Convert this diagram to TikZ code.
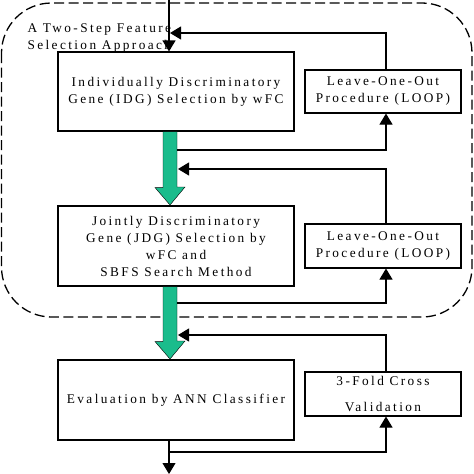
\documentclass[tikz,border=0pt]{standalone}
\usepackage{fontspec}
\setmainfont{Liberation Serif}[LetterSpace=18]
\usetikzlibrary{arrows.meta,calc}
\definecolor{arrgreen}{RGB}{26,188,140}
\begin{document}
\begin{tikzpicture}[x=1pt,y=-1pt]
  \tikzset{ b/.style={draw,line width=1.1pt,rectangle,inner sep=0pt,align=center,
      font=\fontsize{13.3}{17}\selectfont},
    tri/.style={line width=1.1pt,-{Triangle[length=11pt,width=13pt]}},
    fat/.style={fill=arrgreen,draw=black,thin},
  }
  \useasboundingbox (0,0) rectangle (474,474);
  % the dashed frame round the two steps
  \draw[line width=1.3pt,dash pattern=on 10pt off 4.5pt,rounded corners=50pt] (1.5,3) rectangle (472,317);
  \node[anchor=west,align=left,font=\fontsize{13.3}{17}\selectfont] (title) at (24,38)
    {A Two-Step Feature\\Selection Approach};

  \node[b,minimum width=236,minimum height=79] (idg) at (176,91.5)
    {Individually Discriminatory\\Gene (IDG) Selection by wFC};
  \node[b,minimum width=156,minimum height=43] (loop1) at (383,91.5)
    {Leave-One-Out\\Procedure (LOOP)};
  \node[b,minimum width=236,minimum height=80] (jdg) at (176,246)
    {Jointly Discriminatory\\Gene (JDG) Selection by\\wFC and\\SBFS Search Method};
  \node[b,minimum width=156,minimum height=44] (loop2) at (383,246)
    {Leave-One-Out\\Procedure (LOOP)};
  \node[b,minimum width=236,minimum height=80] (ann) at (176,400)
    {Evaluation by ANN Classifier};
  \node[b,minimum width=156,minimum height=44] (fold) at (383,394)
    {3-Fold Cross\\[9pt]Validation};

  \coordinate (in) at (169,0);
  \coordinate (out) at (169,474);
  \coordinate (fb) at (386,0);

  % the green arrows between the steps
  \fill[fat] (idg.south -| 163,0) -- ++(0,56) -- ++(-8,0) -- (170,205) -- (185,187)
    -- ++(-8,0) -- (idg.south -| 177,0) -- cycle;
  \fill[fat] (jdg.south -| 163,0) -- ++(0,55) -- ++(-8,0) -- (170,359) -- (185,341)
    -- ++(-8,0) -- (jdg.south -| 177,0) -- cycle;

  % the connection between the boxes
  \draw[tri] (in) -- (in |- idg.north);
  \draw[tri] (loop1.north -| fb) |- (170,33);
  \draw[tri] (177,150) -| (loop1.south -| fb);
  \draw[tri] (loop2.north -| fb) |- (178,169);
  \draw[tri] (177,303) -| (loop2.south -| fb);
  \draw[tri] (fold.north -| fb) |- (178,335);
  \draw[tri] (ann.south -| out) -- (out);
  \draw[tri] (169,452) -| (fold.south -| fb);
\end{tikzpicture}
\end{document}
